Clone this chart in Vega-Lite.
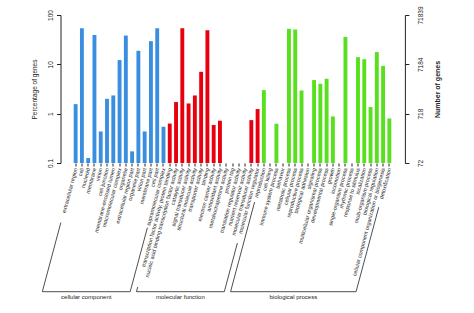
{
  "$schema": "https://vega.github.io/schema/vega-lite/v6.json",
  "width": 320,
  "height": 148,
  "autosize": {"type": "none"},
  "padding": {"left": 72.5, "top": 15, "right": 81.5, "bottom": 150},
  "background": "white",
  "config": {
    "view": {"stroke": null},
    "font": "Liberation Sans",
    "axis": {"domainColor": "#222", "tickColor": "#222", "labelColor": "#222", "titleColor": "#222", "grid": false}
  },
  "datasets": {
    "go": [
      {"term": "extracellular region", "group": "cellular component", "percent": 1.56},
      {"term": "cell", "group": "cellular component", "percent": 54},
      {"term": "nucleoid", "group": "cellular component", "percent": 0.126},
      {"term": "membrane", "group": "cellular component", "percent": 39.5},
      {"term": "virion", "group": "cellular component", "percent": 0.436},
      {"term": "cell junction", "group": "cellular component", "percent": 2.0},
      {"term": "membrane-enclosed lumen", "group": "cellular component", "percent": 2.34},
      {"term": "macromolecular complex", "group": "cellular component", "percent": 12.2},
      {"term": "organelle", "group": "cellular component", "percent": 38.3},
      {"term": "extracellular region part", "group": "cellular component", "percent": 0.172},
      {"term": "organelle part", "group": "cellular component", "percent": 18.8},
      {"term": "virion part", "group": "cellular component", "percent": 0.436},
      {"term": "membrane part", "group": "cellular component", "percent": 29.5},
      {"term": "cell part", "group": "cellular component", "percent": 54},
      {"term": "supramolecular complex", "group": "cellular component", "percent": 0.543},
      {"term": "transcription factor activity, protein binding", "group": "molecular function", "percent": 0.63},
      {"term": "nucleic acid binding transcription factor activity", "group": "molecular function", "percent": 1.72},
      {"term": "catalytic activity", "group": "molecular function", "percent": 54},
      {"term": "signal transducer activity", "group": "molecular function", "percent": 1.61},
      {"term": "structural molecule activity", "group": "molecular function", "percent": 2.34},
      {"term": "transporter activity", "group": "molecular function", "percent": 7.05},
      {"term": "binding", "group": "molecular function", "percent": 49},
      {"term": "electron carrier activity", "group": "molecular function", "percent": 0.59},
      {"term": "antioxidant activity", "group": "molecular function", "percent": 0.72},
      {"term": "metallochaperone activity", "group": "molecular function", "percent": null},
      {"term": "protein tag", "group": "molecular function", "percent": null},
      {"term": "translation regulator activity", "group": "molecular function", "percent": null},
      {"term": "nutrient reservoir activity", "group": "molecular function", "percent": null},
      {"term": "molecular transducer activity", "group": "molecular function", "percent": 0.74},
      {"term": "molecular function regulator", "group": "molecular function", "percent": 1.24},
      {"term": "reproduction", "group": "biological process", "percent": 3.0},
      {"term": "cell killing", "group": "biological process", "percent": null},
      {"term": "immune system process", "group": "biological process", "percent": 0.625},
      {"term": "behavior", "group": "biological process", "percent": null},
      {"term": "metabolic process", "group": "biological process", "percent": 52.3},
      {"term": "cellular process", "group": "biological process", "percent": 51},
      {"term": "reproductive process", "group": "biological process", "percent": 2.95},
      {"term": "biological adhesion", "group": "biological process", "percent": null},
      {"term": "signaling", "group": "biological process", "percent": 4.8},
      {"term": "multicellular organismal process", "group": "biological process", "percent": 4.03},
      {"term": "developmental process", "group": "biological process", "percent": 5.09},
      {"term": "growth", "group": "biological process", "percent": 0.88},
      {"term": "locomotion", "group": "biological process", "percent": null},
      {"term": "single-organism process", "group": "biological process", "percent": 36},
      {"term": "rhythmic process", "group": "biological process", "percent": null},
      {"term": "response to stimulus", "group": "biological process", "percent": 14},
      {"term": "localization", "group": "biological process", "percent": 12.7},
      {"term": "multi-organism process", "group": "biological process", "percent": 1.36},
      {"term": "biological regulation", "group": "biological process", "percent": 17.7},
      {"term": "cellular component organization or biogenesis", "group": "biological process", "percent": 9.3},
      {"term": "detoxification", "group": "biological process", "percent": 0.8}
    ],
    "groups": [
      {"group": "cellular component", "first": "extracellular region", "mid": "macromolecular complex", "last": "supramolecular complex"},
      {"group": "molecular function", "first": "transcription factor activity, protein binding", "mid": "electron carrier activity", "last": "molecular function regulator"},
      {"group": "biological process", "first": "reproduction", "mid": "developmental process", "last": "detoxification"}
    ]
  },
  "layer": [
    {
      "data": {"name": "go"},
      "mark": {"type": "bar"},
      "encoding": {
        "x": {
          "field": "term", "type": "nominal", "title": null,
          "scale": {
            "type": "band",
            "domain": ["extracellular region","cell","nucleoid","membrane","virion","cell junction","membrane-enclosed lumen","macromolecular complex","organelle","extracellular region part","organelle part","virion part","membrane part","cell part","supramolecular complex","transcription factor activity, protein binding","nucleic acid binding transcription factor activity","catalytic activity","signal transducer activity","structural molecule activity","transporter activity","binding","electron carrier activity","antioxidant activity","metallochaperone activity","protein tag","translation regulator activity","nutrient reservoir activity","molecular transducer activity","molecular function regulator","reproduction","cell killing","immune system process","behavior","metabolic process","cellular process","reproductive process","biological adhesion","signaling","multicellular organismal process","developmental process","growth","locomotion","single-organism process","rhythmic process","response to stimulus","localization","multi-organism process","biological regulation","cellular component organization or biogenesis","detoxification"],
            "paddingInner": 0.38, "paddingOuter": 0.19
          },
          "axis": {"title": null, "labelAngle": -75, "labelAlign": "right", "labelBaseline": "middle", "labelFontSize": 5.5, "labelPadding": 1.5, "tickSize": 3, "domain": false, "labelOverlap": false}
        },
        "y": {
          "field": "percent", "type": "quantitative",
          "scale": {"type": "log", "domain": [0.1, 100]},
          "axis": {"orient": "left", "values": [0.1, 1, 10, 100], "format": "~g", "offset": 12, "tickSize": 4, "labelAngle": -90, "labelAlign": "center", "labelBaseline": "bottom", "labelPadding": 3, "labelFontSize": 6.5, "title": "Percentage of genes", "titleFontSize": 6.5, "titleFontWeight": "normal", "titlePadding": 10}
        },
        "y2": {"datum": 0.1},
        "color": {
          "field": "group", "type": "nominal",
          "scale": {"domain": ["cellular component", "molecular function", "biological process"], "range": ["#3a8ee0", "#e8000f", "#58e01e"]},
          "legend": null
        }
      }
    },
    {
      "data": {"name": "go"},
      "mark": {"type": "point", "opacity": 0},
      "encoding": {
        "x": {"field": "term", "type": "nominal", "title": null},
        "y": {
          "field": "percent", "type": "quantitative",
          "scale": {"type": "log", "domain": [0.1, 100]},
          "axis": {"orient": "right", "values": [0.1, 1, 10, 100], "labelExpr": "format(datum.value * 718.39, 'd')", "offset": 12.4, "tickSize": 4, "labelAngle": -90, "labelAlign": "center", "labelBaseline": "top", "labelPadding": 9, "labelFontSize": 6.5, "title": "Number of genes", "titleAngle": 270, "titleBaseline": "top", "titleFontSize": 7, "titleFontWeight": "bold", "titlePadding": 9}
        }
      }
    },
    {
      "data": {"name": "groups"},
      "mark": {"type": "rule", "color": "#222", "strokeWidth": 0.8, "xOffset": -33.3, "x2Offset": -33.3, "yOffset": 128.7},
      "encoding": {
        "x": {"field": "first", "type": "nominal", "title": null},
        "x2": {"field": "last"},
        "y": {"datum": 0.1, "scale": {"type": "log", "domain": [0.1, 100]}, "axis": null}
      }
    },
    {
      "data": {"name": "groups"},
      "transform": [{"filter": "datum.group == 'cellular component'"}],
      "mark": {"type": "rule", "color": "#222", "strokeWidth": 0.8, "xOffset": -14.8, "yOffset": 59.6, "x2Offset": -33.3, "y2Offset": 128.7},
      "encoding": {"x": {"field": "first", "type": "nominal", "title": null}, "x2": {"field": "first"}, "y": {"datum": 0.1, "scale": {"type": "log", "domain": [0.1, 100]}, "axis": null}, "y2": {"datum": 0.1}}
    },
    {
      "data": {"name": "groups"},
      "transform": [{"filter": "datum.group == 'cellular component'"}],
      "mark": {"type": "rule", "color": "#222", "strokeWidth": 0.8, "xOffset": -16.1, "yOffset": 64.7, "x2Offset": -33.3, "y2Offset": 128.7},
      "encoding": {"x": {"field": "last", "type": "nominal", "title": null}, "x2": {"field": "last"}, "y": {"datum": 0.1, "scale": {"type": "log", "domain": [0.1, 100]}, "axis": null}, "y2": {"datum": 0.1}}
    },
    {
      "data": {"name": "groups"},
      "transform": [{"filter": "datum.group == 'molecular function'"}],
      "mark": {"type": "rule", "color": "#222", "strokeWidth": 0.8, "xOffset": -32.0, "yOffset": 124, "x2Offset": -33.3, "y2Offset": 128.7},
      "encoding": {"x": {"field": "first", "type": "nominal", "title": null}, "x2": {"field": "first"}, "y": {"datum": 0.1, "scale": {"type": "log", "domain": [0.1, 100]}, "axis": null}, "y2": {"datum": 0.1}}
    },
    {
      "data": {"name": "groups"},
      "transform": [{"filter": "datum.group == 'molecular function'"}],
      "mark": {"type": "rule", "color": "#222", "strokeWidth": 0.8, "xOffset": -20.2, "yOffset": 80.0, "x2Offset": -33.3, "y2Offset": 128.7},
      "encoding": {"x": {"field": "last", "type": "nominal", "title": null}, "x2": {"field": "last"}, "y": {"datum": 0.1, "scale": {"type": "log", "domain": [0.1, 100]}, "axis": null}, "y2": {"datum": 0.1}}
    },
    {
      "data": {"name": "groups"},
      "transform": [{"filter": "datum.group == 'biological process'"}],
      "mark": {"type": "rule", "color": "#222", "strokeWidth": 0.8, "xOffset": -9.3, "yOffset": 39.1, "x2Offset": -33.3, "y2Offset": 128.7},
      "encoding": {"x": {"field": "first", "type": "nominal", "title": null}, "x2": {"field": "first"}, "y": {"datum": 0.1, "scale": {"type": "log", "domain": [0.1, 100]}, "axis": null}, "y2": {"datum": 0.1}}
    },
    {
      "data": {"name": "groups"},
      "transform": [{"filter": "datum.group == 'biological process'"}],
      "mark": {"type": "rule", "color": "#222", "strokeWidth": 0.8, "xOffset": -10.6, "yOffset": 44.2, "x2Offset": -33.3, "y2Offset": 128.7},
      "encoding": {"x": {"field": "last", "type": "nominal", "title": null}, "x2": {"field": "last"}, "y": {"datum": 0.1, "scale": {"type": "log", "domain": [0.1, 100]}, "axis": null}, "y2": {"datum": 0.1}}
    },
    {
      "data": {"name": "groups"},
      "mark": {"type": "text", "fontSize": 6, "color": "#222", "baseline": "top", "align": "center", "xOffset": -33.3, "yOffset": 130.5},
      "encoding": {
        "x": {"field": "mid", "type": "nominal", "title": null},
        "y": {"datum": 0.1, "scale": {"type": "log", "domain": [0.1, 100]}, "axis": null},
        "text": {"field": "group"}
      }
    }
  ],
  "resolve": {"scale": {"y": "independent"}}
}
